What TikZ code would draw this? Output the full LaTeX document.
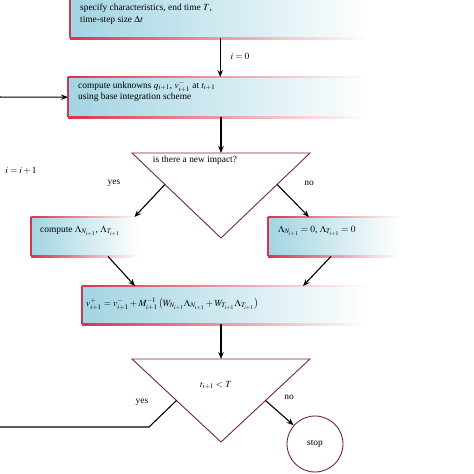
\documentclass[tikz,border=0pt]{standalone}
\usepackage{mathptmx}
\usepackage[no-math]{fontspec}
\setmainfont{Liberation Serif}
\usetikzlibrary{arrows.meta,calc}

\definecolor{boxblue}{RGB}{162,212,226}
\definecolor{boxred}{RGB}{218,50,80}
\definecolor{declin}{RGB}{120,40,45}

\tikzset{
  procbox/.style={draw=none, left color=boxblue, right color=white, inner sep=0pt, anchor=north west},
  flow/.style={-{Stealth[length=7pt,width=5.5pt]}, line width=1.1pt},
  decision/.style={draw=declin, line width=0.9pt},
  txt/.style={font=\fontsize{9.4}{11.5}\selectfont, inner sep=0pt, align=left, anchor=west},
  lbl/.style={txt, anchor=center},
}

% red edge of a box, fading out to the right
\newcommand{\procedge}[1]{%
  \shade[left color=boxred, middle color=boxred!50, right color=white]
    ([yshift=.65pt]#1.north west) rectangle ([yshift=-.65pt]#1.north east);
  \shade[left color=boxred, middle color=boxred!50, right color=white]
    ([yshift=.65pt]#1.south west) rectangle ([yshift=-.65pt]#1.south east);
  \draw[boxred, line width=1.3pt] (#1.north west) -- (#1.south west);}

\begin{document}
\begin{tikzpicture}[x=1pt,y=-1pt]
\useasboundingbox (0,0) rectangle (474,474);
\clip (0,0) rectangle (474,474);
% Cajas
\node[procbox, minimum width=300pt, minimum height=39pt] (init) at (70,-1) {};
\node[procbox, minimum width=302pt, minimum height=40pt] (step) at (68,77) {};
\node[procbox, minimum width=109pt, minimum height=39pt] (impact) at (31,217) {};
\node[procbox, minimum width=132pt, minimum height=39pt] (noimp) at (268,217) {};
\node[procbox, minimum width=288pt, minimum height=38pt] (update) at (82,286) {};
\procedge{init}
\procedge{step}
\procedge{impact}
\procedge{noimp}
\procedge{update}
\node[txt] (initText) at (80,14) {specify characteristics, end time $T$,\\time-step size $\Delta t$};
\node[txt] (stepText) at (78,91) {compute unknowns $q_{i+1}$, $v^-_{i+1}$ at $t_{i+1}$\\using base integration scheme};
\node[txt] (impactText) at (40,231) {compute $\Lambda_{N_{i+1}}$, $\Lambda_{T_{i+1}}$};
\node[txt] (noimpText) at (278,231) {$\Lambda_{N_{i+1}}=0$, $\Lambda_{T_{i+1}}=0$};
\node[txt] (updateText) at (86,304) {$v^+_{i+1}=v^-_{i+1}+M^{-1}_{i+1}\left(W_{N_{i+1}}\Lambda_{N_{i+1}}+W_{T_{i+1}}\Lambda_{T_{i+1}}\right)$};
% Decisiones
\coordinate (impW) at (132,153);
\coordinate (impE) at (310,153);
\coordinate (impS) at (221,238);
\coordinate (impN) at (221,153);
\draw[decision] (impW) -- (impE) -- (impS) -- cycle;
\node[lbl] (impQ) at (195,160) {is there a new impact?};
\coordinate (chkW) at (132,359);
\coordinate (chkE) at (310,359);
\coordinate (chkS) at (221,442);
\coordinate (chkN) at (221,359);
\draw[decision] (chkW) -- (chkE) -- (chkS) -- cycle;
\node[lbl] (chkQ) at (216,385) {$t_{i+1}<T$};
\node[decision, circle, minimum size=56pt, inner sep=0pt, font=\fontsize{9.4}{11.5}\selectfont] (stop) at (315,444) {stop};
% Flechas
\draw[flow] (init.south) -- (init.south |- step.north);
\node[lbl] (iZero) at (240,56) {$i=0$};
\draw[flow] (step.south -| impN) -- (impN);
\draw[flow] ($(impW)!0.37!(impS)$) -- ([xshift=-6pt]impact.north east);
\draw[flow] ($(impE)!0.37!(impS)$) -- ([xshift=41pt]noimp.north west);
\node[lbl] (yesA) at (114,183) {yes};
\node[lbl] (noA) at (309,183) {no};
\draw[flow] ([xshift=77pt]impact.south west) -- ([xshift=53pt]update.north west);
\draw[flow] ([xshift=63pt]noimp.south west) -- ([xshift=221pt]update.north west);
\draw[flow] ([xshift=139pt]update.south west) -- (chkN);
\draw[flow] ($(chkE)!0.5!(chkS)$) -- (stop);
\node[lbl] (noB) at (289,397) {no};
\node[lbl] (yesB) at (142,402) {yes};
% Vuelta
\coordinate (loopA) at (149,427);
\coordinate (loopB) at (-20,427);
\coordinate (loopC) at (-20,97);
\draw[flow] ($(chkW)!0.5!(chkS)$) -- (loopA) -- (loopB) -- (loopC) -- (step.west);
\node[lbl] (iInc) at (21,171) {$i=i+1$};
\end{tikzpicture}
\end{document}
